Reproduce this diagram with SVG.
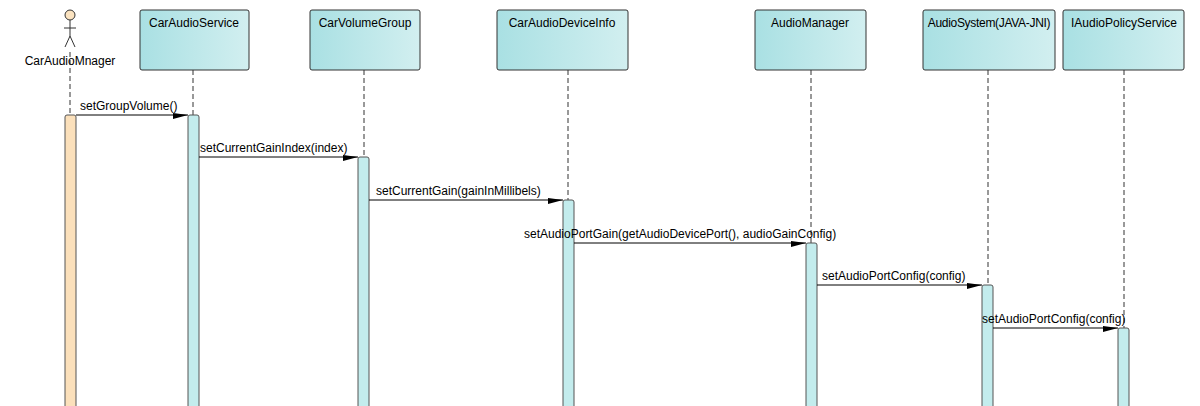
<svg xmlns="http://www.w3.org/2000/svg" width="1200" height="406" viewBox="0 0 1200 406">
<defs>
<linearGradient id="g" x1="0" x2="1" y1="0" y2="0"><stop offset="0" stop-color="#a9e0e3"/><stop offset="1" stop-color="#d2eff0"/></linearGradient>
</defs>
<style>
text{font-family:"Liberation Sans",Arial,sans-serif;font-size:12px;fill:#000}
.box{fill:url(#g);stroke:#333;stroke-width:1}
.life{stroke:#333;stroke-dasharray:5,3;stroke-width:1}
.act{fill:#c3eced;stroke:#555;stroke-width:1}
.msg{stroke:#000;stroke-width:1;fill:none}
</style>
<rect width="1200" height="406" fill="#fff"/>
<g id="lifelines">
<line class="life" x1="70" y1="52" x2="70" y2="115"/>
<line class="life" x1="193" y1="70" x2="193" y2="115"/>
<line class="life" x1="364" y1="70" x2="364" y2="157"/>
<line class="life" x1="568" y1="70" x2="568" y2="200"/>
<line class="life" x1="811" y1="70" x2="811" y2="243"/>
<line class="life" x1="988" y1="70" x2="988" y2="285"/>
<line class="life" x1="1124" y1="70" x2="1124" y2="328"/>
</g>
<g id="CarAudioMnager">
<circle cx="70" cy="15" r="5" fill="#fbe3c0" stroke="#333"/>
<line x1="70" y1="20" x2="70" y2="36" stroke="#333"/>
<line x1="64" y1="28" x2="76" y2="28" stroke="#333"/>
<line x1="70" y1="36" x2="65" y2="47" stroke="#333"/>
<line x1="70" y1="36" x2="75" y2="47" stroke="#333"/>
<text x="70" y="65" text-anchor="middle">CarAudioMnager</text>
<rect x="65" y="115" width="11" height="300" rx="2" fill="#fbe0bb" stroke="#555"/>
</g>
<g id="CarAudioService">
<rect class="box" x="140" y="10" width="109" height="60" rx="2"/>
<text x="194" y="27" text-anchor="middle">CarAudioService</text>
<rect class="act" x="188" y="115" width="11" height="300" rx="2"/>
</g>
<g id="CarVolumeGroup">
<rect class="box" x="310" y="10" width="110" height="60" rx="2"/>
<text x="365" y="27" text-anchor="middle">CarVolumeGroup</text>
<rect class="act" x="358" y="157" width="11" height="260" rx="2"/>
</g>
<g id="CarAudioDeviceInfo">
<rect class="box" x="497" y="10" width="131" height="60" rx="2"/>
<text x="562" y="27" text-anchor="middle">CarAudioDeviceInfo</text>
<rect class="act" x="563" y="200" width="11" height="220" rx="2"/>
</g>
<g id="AudioManager">
<rect class="box" x="755" y="10" width="111" height="60" rx="2"/>
<text x="810" y="27" text-anchor="middle">AudioManager</text>
<rect class="act" x="806" y="243" width="11" height="180" rx="2"/>
</g>
<g id="AudioSystem">
<rect class="box" x="923" y="10" width="132" height="60" rx="2"/>
<text x="989" y="27" text-anchor="middle" style="letter-spacing:-0.3px">AudioSystem(JAVA-JNI)</text>
<rect class="act" x="982" y="285" width="11" height="140" rx="2"/>
</g>
<g id="IAudioPolicyService">
<rect class="box" x="1063" y="10" width="121" height="60" rx="2"/>
<text x="1124" y="27" text-anchor="middle">IAudioPolicyService</text>
<rect class="act" x="1118" y="328" width="11" height="100" rx="2"/>
</g>
<g id="connectors">
<line class="msg" x1="76" y1="115" x2="188" y2="115"/><polygon points="188,115 173,113 173,119"/>
<text x="80" y="110">setGroupVolume()</text>
<line class="msg" x1="199" y1="157" x2="358" y2="157"/><polygon points="358,157 343,155 343,161"/>
<text x="200" y="152">setCurrentGainIndex(index)</text>
<line class="msg" x1="369" y1="200" x2="563" y2="200"/><polygon points="563,200 548,198 548,204"/>
<text x="376" y="195">setCurrentGain(gainInMillibels)</text>
<line class="msg" x1="574" y1="243" x2="806" y2="243"/><polygon points="806,243 791,241 791,247"/>
<text x="524" y="238">setAudioPortGain(getAudioDevicePort(), audioGainConfig)</text>
<line class="msg" x1="817" y1="285" x2="982" y2="285"/><polygon points="982,285 967,283 967,289"/>
<text x="822" y="280">setAudioPortConfig(config)</text>
<line class="msg" x1="993" y1="328" x2="1118" y2="328"/><polygon points="1118,328 1103,326 1103,332"/>
<text x="982" y="323">setAudioPortConfig(config)</text>
</g>
</svg>
